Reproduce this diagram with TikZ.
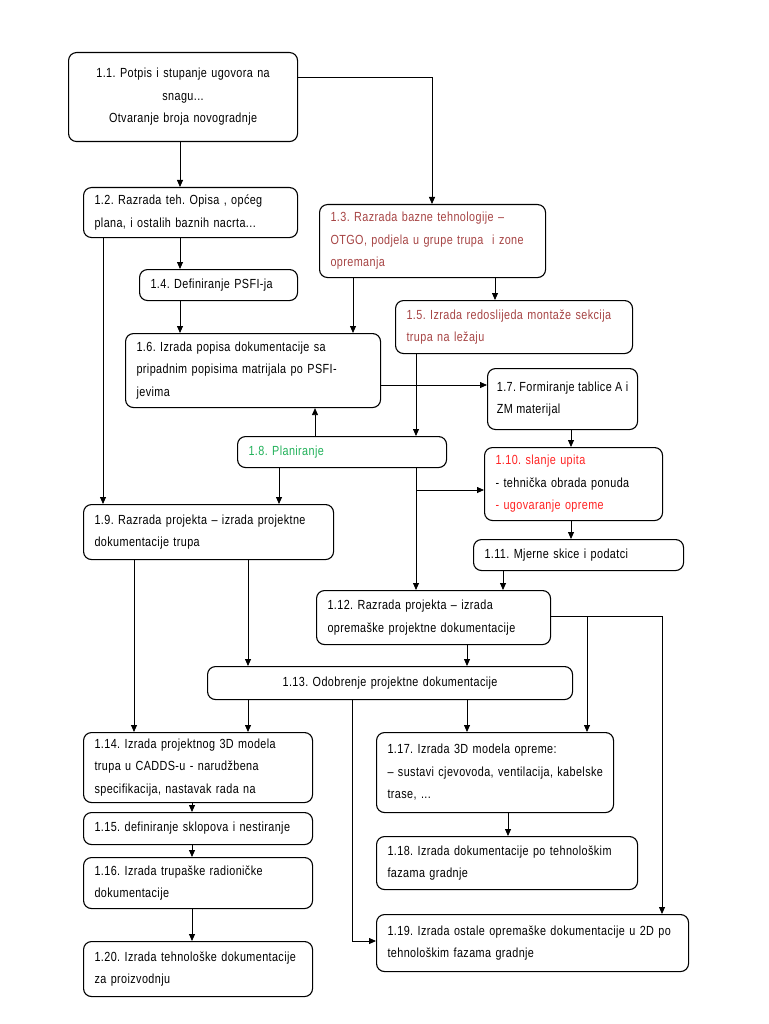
\documentclass[tikz,border=0pt]{standalone}
\usepackage{fontspec}
\setmainfont{Liberation Sans}[FakeStretch=0.82, LetterSpace=3]
\usetikzlibrary{arrows.meta}
\definecolor{techred}{RGB}{166,68,68}
\definecolor{plangreen}{RGB}{34,177,90}
\definecolor{offerred}{RGB}{255,35,35}
\newcommand{\flowfont}{\fontsize{13.2}{22.5}\selectfont\frenchspacing}
\tikzset{
  every picture/.style={font=\flowfont, >={Triangle[length=7pt,width=6pt]}},
  stage/.style={draw, rounded corners=8pt, line width=1.1pt, anchor=north west,
                inner xsep=11pt, inner ysep=0pt, align=left},
  flow/.style={->, line width=0.8pt}}
\begin{document}
\begin{tikzpicture}[x=1pt, y=-1pt]
    \useasboundingbox (0,0) rectangle (768,1024);

    \node [stage, align=center, text width=207pt, minimum height=89pt] (n11) at (68,52)
      {1.1. Potpis i stupanje ugovora na\\snagu...\\Otvaranje broja novogradnje};
    \node [stage, text width=192pt, minimum height=50pt] (n12) at (83,187)
      {1.2. Razrada teh. Opisa , općeg\\plana, i ostalih baznih nacrta...};
    \node [stage, text width=204pt, minimum height=73pt, text=techred] (n13) at (319,204)
      {1.3. Razrada bazne tehnologije --\\OTGO, podjela u grupe trupa\ \ i zone\\opremanja};
    \node [stage, text width=136pt, minimum height=31pt] (n14) at (139,269)
      {1.4. Definiranje PSFI-ja};
    \node [stage, text width=215pt, minimum height=53pt, text=techred] (n15) at (395,300)
      {1.5. Izrada redoslijeda montaže sekcija\\trupa na ležaju};
    \node [stage, text width=233pt, minimum height=74pt] (n16) at (125,333)
      {1.6. Izrada popisa dokumentacije sa\\pripadnim popisima matrijala po PSFI-\\jevima};
    \node [stage, inner xsep=5pt, minimum width=150pt, minimum height=61pt] (n17) at (487,368)
      {1.7. Formiranje tablice A i\\ZM\ materijal};
    \node [stage, text width=187pt, minimum height=31pt, text=plangreen] (n18) at (237,436)
      {1.8. Planiranje};
    \node [stage, text width=156pt, minimum height=73pt] (n110) at (484,447)
      {\textcolor{offerred}{1.10. slanje upita}\\- tehnička obrada ponuda\\\textcolor{offerred}{- ugovaranje opreme}};
    \node [stage, text width=228pt, minimum height=55pt] (n19) at (83,504)
      {1.9. Razrada projekta -- izrada projektne\\dokumentacije trupa};
    \node [stage, text width=188pt, minimum height=31pt] (n111) at (473,539)
      {1.11. Mjerne skice i podatci};
    \node [stage, text width=212pt, minimum height=54pt] (n112) at (316,590)
      {1.12. Razrada projekta -- izrada\\opremaške projektne dokumentacije};
    \node [stage, align=center, text width=343pt, minimum height=33pt] (n113) at (207,666)
      {1.13. Odobrenje projektne dokumentacije};
    \node [stage, text width=207pt, minimum height=70pt] (n114) at (83,732)
      {1.14. Izrada projektnog 3D modela\\trupa u CADDS-u - narudžbena\\specifikacija, nastavak rada na};
    \node [stage, text width=215pt, minimum height=80pt] (n117) at (376,732)
      {1.17. Izrada 3D modela opreme:\\-- sustavi cjevovoda, ventilacija, kabelske\\trase, ...};
    \node [stage, text width=207pt, minimum height=32pt] (n115) at (83,812)
      {1.15. definiranje sklopova i nestiranje};
    \node [stage, text width=207pt, minimum height=51pt] (n116) at (83,857)
      {1.16. Izrada trupaške radioničke\\dokumentacije};
    \node [stage, text width=239pt, minimum height=53pt] (n118) at (376,836)
      {1.18. Izrada dokumentacije po tehnološkim\\fazama gradnje};
    \node [stage, text width=290pt, minimum height=57pt] (n119) at (376,914)
      {1.19. Izrada ostale opremaške dokumentacije u 2D po\\tehnološkim\ fazama gradnje};
    \node [stage, text width=207pt, minimum height=55pt] (n120) at (83,941)
      {1.20. Izrada tehnološke dokumentacije\\za proizvodnju};

    \coordinate (split) at (416,490);
    \coordinate (tap) at (587,616);

    \draw [flow] (n11.south -| 180,0) -- (n12.north -| 180,0);
    \draw [flow] (n11.east |- 0,77) -| (n13.north -| 432,0);
    \draw [flow] (n12.south -| 180,0) -- (n14.north -| 180,0);
    \draw [flow] (n12.south -| 103,0) -- (n19.north -| 103,0);
    \draw [flow] (n14.south -| 180,0) -- (n16.north -| 180,0);
    \draw [flow] (n13.south -| 353,0) -- (n16.north -| 353,0);
    \draw [flow] (n13.south -| 495,0) -- (n15.north -| 495,0);
    \draw [flow] (n15.south -| 416,0) -- (n18.north -| 416,0);
    \draw [flow] (n16.east |- 0,385) -- (n17.west |- 0,385);
    \draw [flow] (n17.south -| 571,0) -- (n110.north -| 571,0);
    \draw [flow] (n18.north -| 315,0) -- (n16.south -| 315,0);
    \draw [flow] (n18.south -| 279,0) -- (n19.north -| 279,0);
    \draw [flow] (n18.south -| 416,0) -- (n112.north -| 416,0);
    \draw [flow] (split) -- (split -| n110.west);
    \draw [flow] (n110.south -| 571,0) -- (n111.north -| 571,0);
    \draw [flow] (n111.south -| 503,0) -- (n112.north -| 503,0);
    \draw [flow] (n19.south -| 134,0) -- (n114.north -| 134,0);
    \draw [flow] (n19.south -| 248,0) -- (n113.north -| 248,0);
    \draw [flow] (n112.south -| 467,0) -- (n113.north -| 467,0);
    \draw [flow] (n112.east |- tap) -| (n119.north -| 662,0);
    \draw [flow] (tap) -- (n117.north -| tap);
    \draw [flow] (n113.south -| 248,0) -- (n114.north -| 248,0);
    \draw [flow] (n113.south -| 467,0) -- (n117.north -| 467,0);
    \draw [flow] (n113.south -| 352,0) |- (n119.west |- 0,941);
    \draw [flow] (n114.south -| 192,0) -- (n115.north -| 192,0);
    \draw [flow] (n115.south -| 192,0) -- (n116.north -| 192,0);
    \draw [flow] (n116.south -| 192,0) -- (n120.north -| 192,0);
    \draw [flow] (n117.south -| 508,0) -- (n118.north -| 508,0);
  \end{tikzpicture}
\end{document}
